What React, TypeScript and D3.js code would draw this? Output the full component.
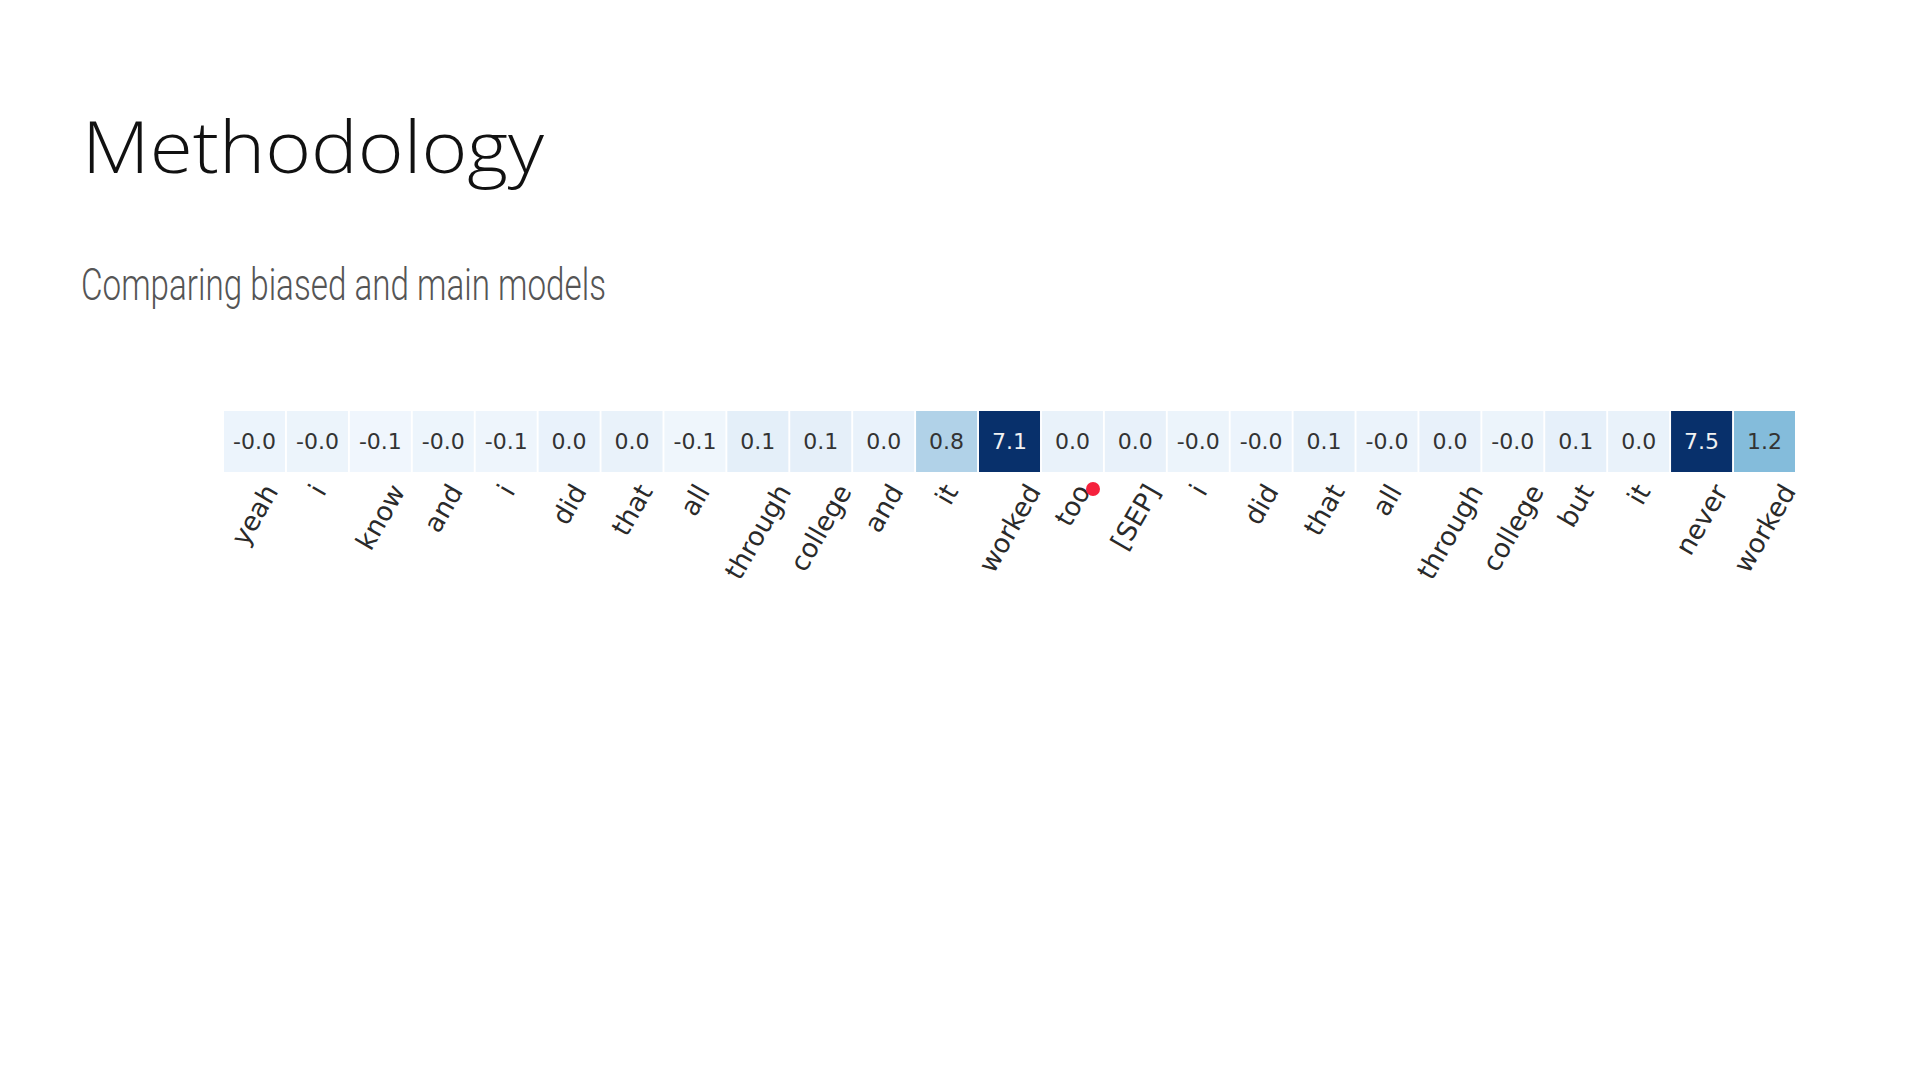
import React from "react";
import * as d3 from "d3";

const tokens: string[] = [
  "yeah", "i", "know", "and", "i", "did", "that", "all", "through", "college",
  "and", "it", "worked", "too", "[SEP]", "i", "did", "that", "all", "through",
  "college", "but", "it", "never", "worked",
];

const values: number[] = [
  -0.03, -0.02, -0.08, -0.04, -0.06, 0.02, 0.03, -0.07, 0.1, 0.09,
  0.02, 0.8, 7.1, 0.03, 0.04, -0.02, -0.03, 0.06, -0.01, 0.04,
  -0.02, 0.07, 0.03, 7.5, 1.2,
];

const titleText = "Methodology";
const subtitleText = "Comparing biased and main models";

const W = 1912;
const H = 1068;
const heat = { left: 224, right: 1795, top: 411, bottom: 472 };
const labelFont = 26.5;
const numFont = 22;
const angle = 60;

let measureCtx: CanvasRenderingContext2D | null = null;
function measure(text: string, size: number): number {
  if (!measureCtx) {
    const c = document.createElement("canvas");
    measureCtx = c.getContext("2d");
  }
  if (!measureCtx) return text.length * size * 0.6;
  measureCtx.font = `${size}px 'DejaVu Sans'`;
  return measureCtx.measureText(text).width;
}

export default function App() {
  const idx = tokens.map((_, i) => i);
  const x = d3
    .scaleBand<number>()
    .domain(idx)
    .range([heat.left, heat.right])
    .paddingInner(0.03)
    .paddingOuter(0);
  const cMin = -0.2;
  const cMax = 3.0;
  const color = d3
    .scaleSequential(d3.interpolateBlues)
    .domain([cMin, cMax])
    .clamp(true);

  const rad = (angle * Math.PI) / 180;
  const hText = labelFont * 1.0;

  return (
    <svg
      width={W}
      height={H}
      style={{ position: "absolute", left: 0, top: 0, display: "block", background: "#ffffff" }}
    >
      <rect x={0} y={0} width={W} height={H} fill="#ffffff" />
      <text
        x={82}
        y={173}
        fontFamily="'Open Sans', Lato, sans-serif"
        fontWeight={300}
        fontSize={72}
        fill="#111111"
        textLength={462}
        lengthAdjust="spacingAndGlyphs"
      >
        {titleText}
      </text>
      <text
        x={81}
        y={300}
        fontFamily="Roboto, 'Open Sans', sans-serif"
        fontWeight={300}
        fontSize={45}
        fill="#555555"
        textLength={525}
        lengthAdjust="spacingAndGlyphs"
      >
        {subtitleText}
      </text>

      <g>
        {values.map((v, i) => {
          const t = Math.max(0, Math.min(1, (v - cMin) / (cMax - cMin)));
          const dark = t > 0.6;
          return (
            <g key={i}>
              <rect
                x={x(i)}
                y={heat.top}
                width={x.bandwidth()}
                height={heat.bottom - heat.top}
                fill={color(v)}
              />
              <text
                x={(x(i) as number) + x.bandwidth() / 2}
                y={(heat.top + heat.bottom) / 2}
                dy="0.36em"
                textAnchor="middle"
                fontFamily="'DejaVu Sans', sans-serif"
                fontSize={numFont}
                fill={dark ? "#f2f2f2" : "#333333"}
              >
                {v.toFixed(1)}
              </text>
            </g>
          );
        })}
      </g>

      <g>
        {tokens.map((tk, i) => {
          const L = measure(tk, labelFont);
          const bh = L * Math.sin(rad) + hText * Math.cos(rad);
          const cx = (x(i) as number) + x.bandwidth() / 2;
          const cy = heat.bottom + 8 + bh / 2;
          return (
            <text
              key={i}
              transform={`translate(${cx},${cy}) rotate(${-angle})`}
              textAnchor="middle"
              dy="0.35em"
              fontFamily="'DejaVu Sans', sans-serif"
              fontSize={labelFont}
              fill="#2a2a2a"
            >
              {tk}
            </text>
          );
        })}
      </g>

      <circle cx={1093} cy={489} r={7} fill="#f5213d" />
    </svg>
  );
}
